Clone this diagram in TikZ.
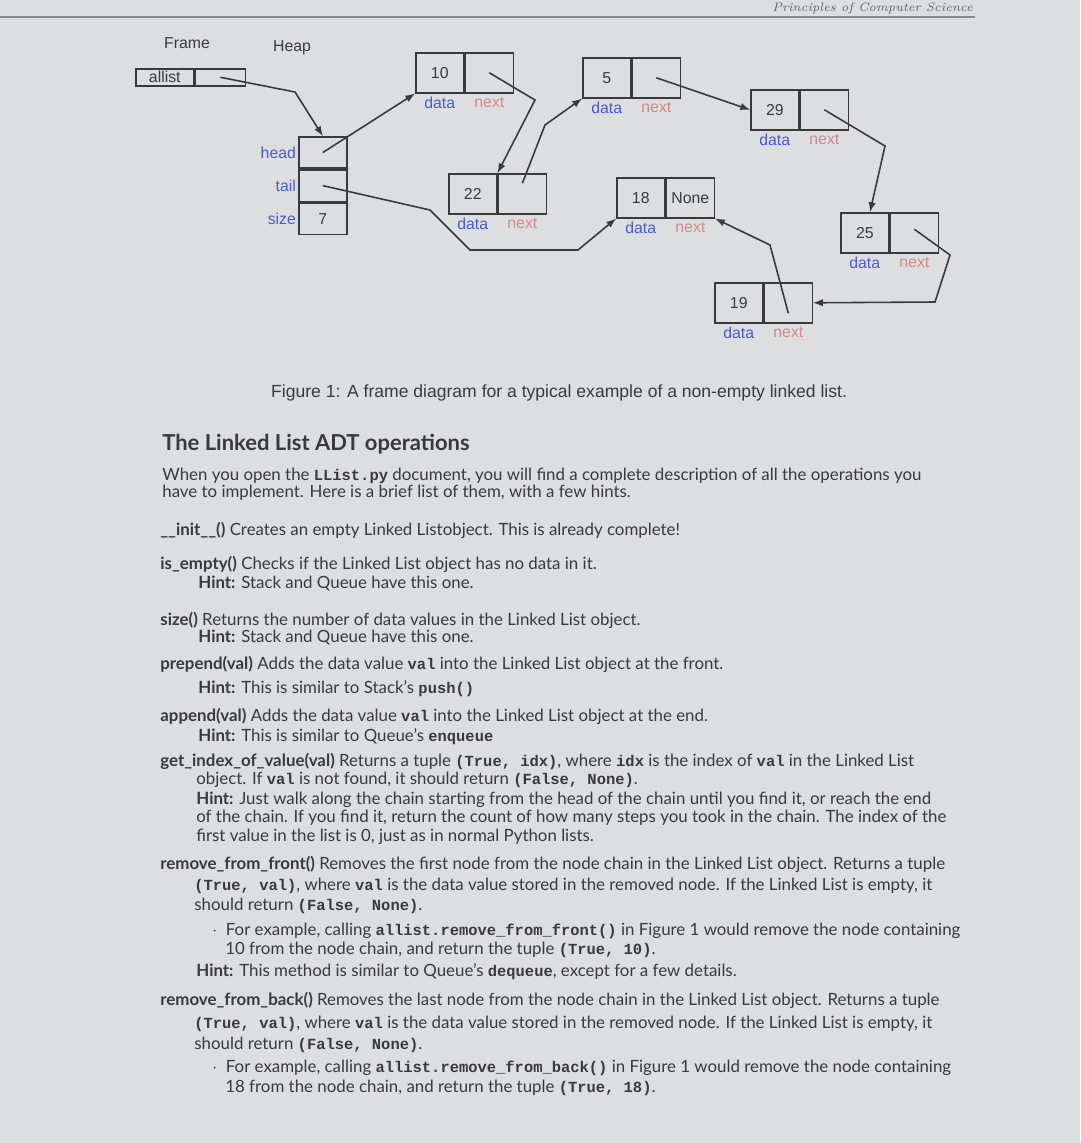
\documentclass[tikz,border=0pt]{standalone}
\usepackage{fontspec}
\setmainfont{Lato}
\newfontfamily\arial{Liberation Sans}
\newfontfamily\codef{Liberation Mono}
\usetikzlibrary{positioning}
\newcommand{\cd}[1]{{\codef\bfseries\fontsize{8.8}{11}\selectfont #1}}
\definecolor{bg}{HTML}{DDDEE0}
\definecolor{ink}{HTML}{3A3A3E}
\definecolor{lblue}{HTML}{4A5BD0}
\definecolor{lred}{HTML}{D08A8A}
\tikzset{
 cell/.style={draw=ink,line width=0.9pt,minimum width=0.96cm,minimum height=0.8cm,inner sep=0pt,font=\arial\small,text=ink},
 dlab/.style={font=\arial\small,text=lblue,inner sep=1pt},
 nlab/.style={font=\arial\small,text=lred,inner sep=1pt},
 ptr/.style={draw=ink,line width=0.9pt,-latex},
 body/.style={anchor=west,inner sep=0pt,font=\fontsize{9.6}{11}\selectfont,text=ink},
}
\begin{document}
\begin{tikzpicture}[x=0.02cm,y=-0.02cm]
\fill[bg] (0,0) rectangle (1080,1143);
\useasboundingbox (0,0) rectangle (1080,1143);
% header
\node[anchor=south east,font=\fontfamily{lmr}\itshape\scriptsize,text=ink!80,inner sep=1pt] (hdr) at (975,16) {Principles of Computer Science};
\draw[ink!60,line width=1pt] (0,17) -- (975,17);
\node[font=\arial\small,text=ink] (frame) at (187,43) {Frame};
\node[font=\arial\small,text=ink] (heap) at (292,48) {Heap};
% allist
\node[cell,minimum width=1.16cm,minimum height=0.34cm,anchor=north west] (al) at (135,68) {allist};
\node[cell,minimum width=1cm,minimum height=0.34cm,right=0 of al] (alp) {};
% struct
\node[cell,anchor=north west,minimum height=0.63cm] (hd) at (298,136) {};
\node[cell,below=0 of hd,minimum height=0.63cm] (tl) {};
\node[cell,below=0 of tl,minimum height=0.63cm] (sz) {7};
\node[dlab,anchor=east] at (hd.west) {head};
\node[dlab,anchor=east] at (tl.west) {tail};
\node[dlab,anchor=east] at (sz.west) {size};
% list nodes
\foreach \n/\x/\y/\v/\w in {a/415/52/10/{}, b/582/57/5/{}, c/750/89/29/{}, d/448/173/22/{}, e/616/177/18/None, f/840/212/25/{}, g/714/282/19/{}}{
 \node[cell,anchor=north west] (\n d) at (\x,\y) {\v};
 \node[cell,right=0 of \n d] (\n n) {\w};
 \node[dlab,below=1pt of \n d] (\n dl) {data};
 \node[nlab,below=1pt of \n n] (\n nl) {next};
}
% pointers
\draw[ptr] (alp.center) -- (295,92) -- (hd.north);
\draw[ptr] (hd.center) -- (ad.south west);
\draw[ptr] (an.center) -- (535,100) -- (dd.north east);
\draw[ptr] ([yshift=6]dn.center) -- (545,125) -- (bd.south west);
\draw[ptr] (tl.center) -- (430,210) -- (470,250) -- (578,250) -- (ed.south west);
\draw[ptr] (bn.center) -- (cd.west);
\draw[ptr] (cn.center) -- (885,146) -- (870,212);
\draw[ptr] ([yshift=2]fn.center) -- (950,255) -- (935,302) -- (gn.east);
\draw[ptr] ([yshift=-6]gn.center) -- (770,245) -- (en.south east);
\node[anchor=west,font=\arial,text=ink] (cap) at (265,393) {Figure 1: A frame diagram for a typical example of a non-empty linked list.};
% text
\node[body,font=\fontsize{12.5}{14}\selectfont\bfseries] (t0) at (162,444) {The Linked List ADT operations};
\node[body] (t1) at (162,476) {When you open the \cd{LList.py} document, you will find a complete description of all the operations you};
\node[body] (t2) at (162,493) {have to implement. Here is a brief list of them, with a few hints.};
\node[body] (t3) at (160,530) {\textbf{\_\_init\_\_()} Creates an empty Linked Listobject. This is already complete!};
\node[body] (t4) at (160,564) {\textbf{is\_empty()} Checks if the Linked List object has no data in it.};
\node[body] (t5) at (198,583) {\textbf{Hint:} Stack and Queue have this one.};
\node[body] (t6) at (160,620) {\textbf{size()} Returns the number of data values in the Linked List object.};
\node[body] (t7) at (198,637) {\textbf{Hint:} Stack and Queue have this one.};
\node[body] (t8) at (160,664) {\textbf{prepend(val)} Adds the data value \cd{val} into the Linked List object at the front.};
\node[body] (t9) at (198,689) {\textbf{Hint:} This is similar to Stack's \cd{push()}};
\node[body] (t10) at (160,716) {\textbf{append(val)} Adds the data value \cd{val} into the Linked List object at the end.};
\node[body] (t11) at (198,737) {\textbf{Hint:} This is similar to Queue's \cd{enqueue}};
\node[body] (t12) at (160,761) {\textbf{get\_index\_of\_value(val)} Returns a tuple \cd{(True, idx)}, where \cd{idx} is the index of \cd{val} in the Linked List};
\node[body] (t13) at (196,780) {object. If \cd{val} is not found, it should return \cd{(False, None)}.};
\node[body] (t14) at (196,800) {\textbf{Hint:} Just walk along the chain starting from the head of the chain until you find it, or reach the end};
\node[body] (t15) at (196,818) {of the chain. If you find it, return the count of how many steps you took in the chain. The index of the};
\node[body] (t16) at (196,837) {first value in the list is 0, just as in normal Python lists.};
\node[body] (t17) at (160,864) {\textbf{remove\_from\_front()} Removes the first node from the node chain in the Linked List object. Returns a tuple};
\node[body] (t18) at (194,886) {\cd{(True, val)}, where \cd{val} is the data value stored in the removed node. If the Linked List is empty, it};
\node[body] (t19) at (194,906) {should return \cd{(False, None)}.};
\node[body] (t20) at (212,931) {$\cdot$\ \ For example, calling \cd{allist.remove\_from\_front()} in Figure 1 would remove the node containing};
\node[body] (t21) at (225,950) {10 from the node chain, and return the tuple \cd{(True, 10)}.};
\node[body] (t22) at (196,972) {\textbf{Hint:} This method is similar to Queue's \cd{dequeue}, except for a few details.};
\node[body] (t23) at (160,1000) {\textbf{remove\_from\_back()} Removes the last node from the node chain in the Linked List object. Returns a tuple};
\node[body] (t24) at (194,1024) {\cd{(True, val)}, where \cd{val} is the data value stored in the removed node. If the Linked List is empty, it};
\node[body] (t25) at (194,1045) {should return \cd{(False, None)}.};
\node[body] (t26) at (212,1068) {$\cdot$\ \ For example, calling \cd{allist.remove\_from\_back()} in Figure 1 would remove the node containing};
\node[body] (t27) at (225,1088) {18 from the node chain, and return the tuple \cd{(True, 18)}.};
\end{tikzpicture}
\end{document}
